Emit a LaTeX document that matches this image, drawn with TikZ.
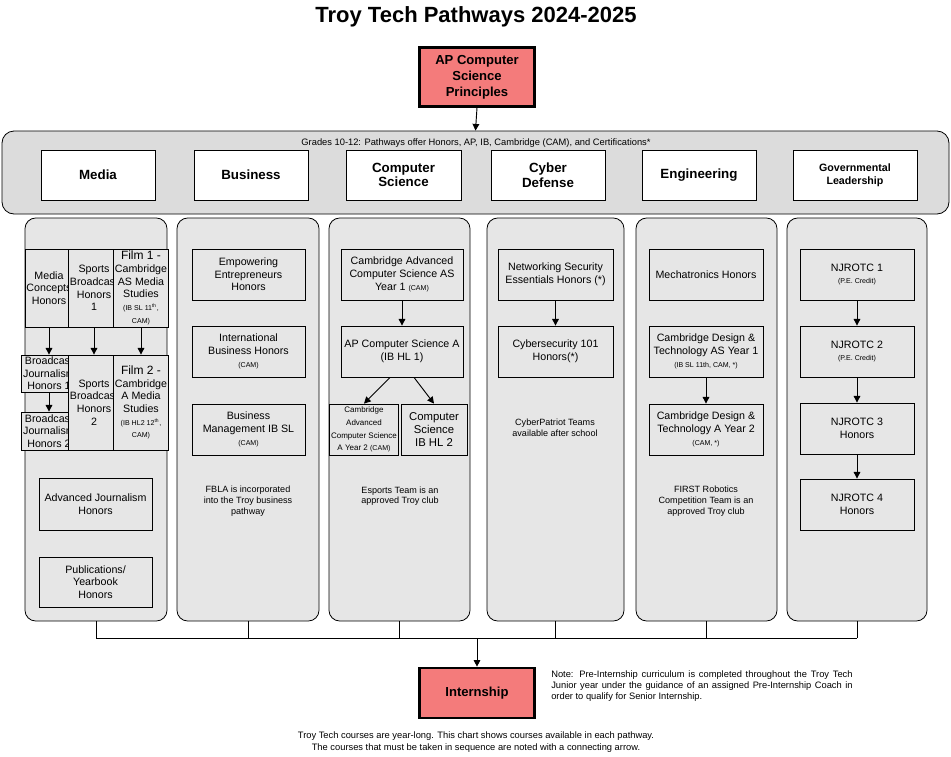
\documentclass[tikz,border=0pt]{standalone}
\usepackage{fontspec}
\setmainfont{Liberation Sans}
\usetikzlibrary{arrows.meta}
\definecolor{salm}{HTML}{F47B7B}
\definecolor{band}{HTML}{DCDCDC}
\definecolor{colg}{HTML}{E6E6E6}
\newcommand\smf{\fontsize{5.3}{6}\selectfont}
\begin{document}
\begin{tikzpicture}[x=0.75pt,y=-0.75pt,
 bx/.style={draw,fill=colg,line width=0.6pt,align=center,font=\fontsize{8}{9.5}\selectfont,inner sep=1pt},
 hd/.style={draw,fill=white,line width=0.6pt,align=center,font=\bfseries\fontsize{10}{11}\selectfont},
 col/.style={draw,fill=colg,rounded corners=8pt,line width=0.6pt},
 arr/.style={-{Triangle[length=5pt,width=5pt]},line width=0.7pt},
 nt/.style={align=center,font=\fontsize{6.8}{8}\selectfont}]
\useasboundingbox (0,0) rectangle (951,757);
\def\B#1#2#3#4#5#6{\node[bx,minimum width={(#4-#2)*0.75pt},minimum height={(#5-#3)*0.75pt}] (#1) at ({(#2+#4)/2},{(#3+#5)/2}) {#6};}
\node[font=\bfseries\fontsize{16.5}{18}\selectfont] (title) at (476,17) {Troy Tech Pathways 2024-2025};
\node[draw,fill=salm,line width=2pt,minimum width=86pt,minimum height=44pt,align=center,font=\bfseries\fontsize{9.8}{12}\selectfont] (ap) at (477,77) {AP Computer\\Science\\Principles};
\node[draw,fill=band,rounded corners=9pt,line width=0.6pt,minimum width=947*0.75pt,minimum height=83*0.75pt] (band) at (475.5,172.5) {};
\draw[arr] (ap.south) -- (band.north);
\node[font=\fontsize{7}{8}\selectfont] (gr) at (476,143) {Grades 10-12: Pathways offer Honors, AP, IB, Cambridge (CAM), and Certifications*};
\foreach \n/\a/\b/\t in {h1/41/155/Media,h2/194/308/Business,h3/346/461/{Computer\\Science},h4/491/605/{Cyber\\Defense},h5/642/756/Engineering}
 \node[hd,minimum width={(\b-\a)*0.75pt},minimum height=37.5pt] (\n) at ({(\a+\b)/2},175) {\t};
\node[hd,minimum width={(917-793)*0.75pt},minimum height=37.5pt,font=\bfseries\fontsize{8}{10}\selectfont] (h6) at (855,175) {Governmental\\Leadership};
\foreach \n/\a/\b in {c1/25/167,c2/177/319,c3/329/470,c4/487/624,c5/636/777,c6/787/927}
 \node[col,minimum width={(\b-\a)*0.75pt},minimum height={403*0.75pt}] (\n) at ({(\a+\b)/2},419.5) {};
% media
\B{m1}{27}{249}{71}{327}{Media\\Concepts\\Honors}
\B{m2}{72}{249}{116}{327}{Sports\\Broadcast\\Honors\\1}
\B{m3}{118}{249}{164}{327}{{\fontsize{9}{10}\selectfont Film 1 -}\\Cambridge\\AS Media\\Studies\\{\smf (IB SL 11\textsuperscript{th},}\\{\smf CAM)}}
\B{m4}{27}{355}{71}{392}{Broadcast\\Journalism\\Honors 1}
\B{m5}{27}{412}{71}{450}{Broadcast\\Journalism\\Honors 2}
\B{m6}{72}{355}{116}{450}{Sports\\Broadcast\\Honors\\2}
\B{m7}{118}{355}{164}{450}{{\fontsize{9}{10}\selectfont Film 2 -}\\Cambridge\\A Media\\Studies\\{\smf (IB HL2 12\textsuperscript{th},}\\{\smf CAM)}}
\B{m8}{39}{478}{152}{530}{Advanced Journalism\\Honors}
\B{m9}{39}{557}{152}{607}{Publications/\\Yearbook\\Honors}
\draw[arr] (m1) -- (m4); \draw[arr] (m2) -- (m6); \draw[arr] (m3) -- (m7); \draw[arr] (m4) -- (m5);
% business
\B{b1}{192}{249}{305}{300}{Empowering\\Entrepreneurs\\Honors}
\B{b2}{192}{326}{305}{377}{International\\Business Honors\\{\smf (CAM)}}
\B{b3}{192}{404}{305}{455}{Business\\Management IB SL\\{\smf (CAM)}}
\node[nt] (bt) at (248,501) {FBLA is incorporated\\into the Troy business\\pathway};
% cs
\B{s1}{341}{249}{463}{300}{Cambridge Advanced\\Computer Science AS\\Year 1 {\smf (CAM)}}
\B{s2}{341}{326}{463}{377}{AP Computer Science A\\(IB HL 1)}
\B{s3}{331}{404}{397}{455}{\fontsize{6}{7}\selectfont Cambridge\\\fontsize{6}{7}\selectfont Advanced\\\fontsize{6}{7}\selectfont Computer Science\\\fontsize{6}{7}\selectfont A Year 2 {\smf (CAM)}}
\B{s4}{401}{404}{467}{455}{\fontsize{8.5}{10}\selectfont Computer\\\fontsize{8.5}{10}\selectfont Science\\\fontsize{8.5}{10}\selectfont IB HL 2}
\draw[arr] (s1) -- (s2);
\draw[arr] (s2.south) ++(-12,0) -- (s3.north); \draw[arr] (s2.south) ++(12,0) -- (s4.north);
\node[nt] (st) at (400,496) {Esports Team is an\\approved Troy club};
% cyber
\B{y1}{498}{249}{613}{300}{Networking Security\\Essentials Honors (*)}
\B{y2}{498}{326}{613}{377}{Cybersecurity 101\\Honors(*)}
\draw[arr] (y1) -- (y2);
\node[nt] (yt) at (555,428) {CyberPatriot Teams\\available after school};
% engineering
\B{e1}{649}{249}{763}{300}{Mechatronics Honors}
\B{e2}{649}{326}{763}{377}{Cambridge Design \&\\Technology AS Year 1\\{\smf (IB SL 11th, CAM, *)}}
\B{e3}{649}{404}{763}{455}{Cambridge Design \&\\Technology A Year 2\\{\smf (CAM, *)}}
\draw[arr] (e2) -- (e3);
\node[nt] (et) at (706,501) {FIRST Robotics\\Competition Team is an\\approved Troy club};
% gov
\B{g1}{800}{249}{914}{300}{NJROTC 1\\{\smf (P.E. Credit)}}
\B{g2}{800}{326}{914}{377}{NJROTC 2\\{\smf (P.E. Credit)}}
\B{g3}{800}{403}{914}{454}{NJROTC 3\\Honors}
\B{g4}{800}{479}{914}{530}{NJROTC 4\\Honors}
\draw[arr] (g1) -- (g2); \draw[arr] (g2) -- (g3); \draw[arr] (g3) -- (g4);
% bottom
\coordinate (jn) at (477,638);
\foreach \c in {c1,c2,c3,c4,c5,c6} \draw[line width=0.6pt] (\c.south) -- (\c.south |- jn);
\draw[line width=0.6pt] (c1.south |- jn) -- (c6.south |- jn);
\node[draw,fill=salm,line width=2pt,minimum width=86pt,minimum height=37.5pt,font=\bfseries\fontsize{9.8}{12}\selectfont] (in) at (477,693) {Internship};
\draw[arr] (jn) -- (in.north);
\node[anchor=north west,text width=226pt,align=justify,font=\fontsize{7}{8.6}\selectfont,inner sep=0pt] (note) at (551,670) {Note: Pre-Internship curriculum is completed throughout the Troy Tech Junior year under the guidance of an assigned Pre-Internship Coach in order to qualify for Senior Internship.};
\node[nt,font=\fontsize{7}{8.6}\selectfont] (ft) at (476,742) {Troy Tech courses are year-long. This chart shows courses available in each pathway.\\The courses that must be taken in sequence are noted with a connecting arrow.};
\end{tikzpicture}
\end{document}
